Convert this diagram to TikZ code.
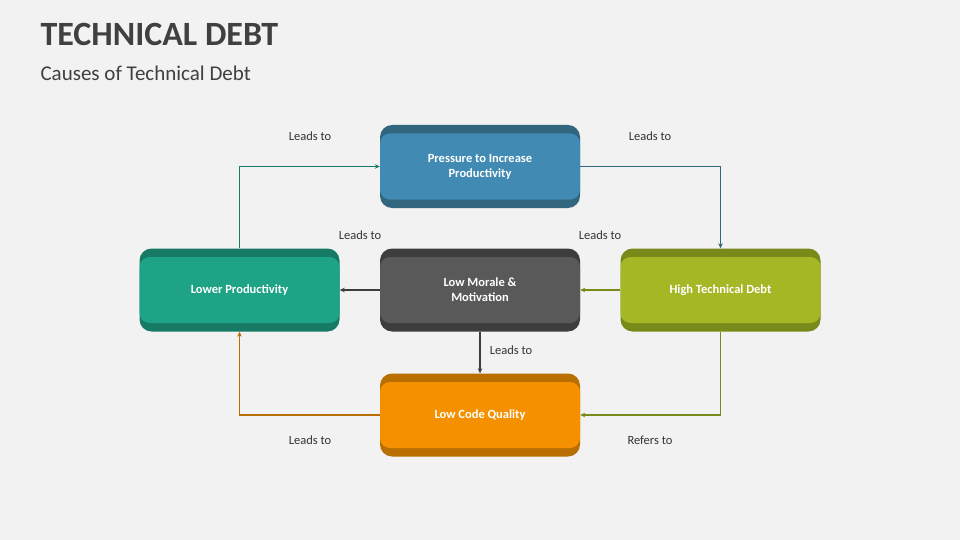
\documentclass[tikz,border=0pt]{standalone}
\usepackage{fontspec}
\setmainfont{Carlito}
\usetikzlibrary{arrows.meta}
\definecolor{bg}{HTML}{F2F2F2}
\definecolor{pL}{HTML}{418AB3}\definecolor{pD}{HTML}{32667F}
\definecolor{gL}{HTML}{1FA386}\definecolor{gD}{HTML}{177A64}
\definecolor{mL}{HTML}{595959}\definecolor{mD}{HTML}{3D3D3D}
\definecolor{oL}{HTML}{A5B725}\definecolor{oD}{HTML}{7A8A1A}
\definecolor{yL}{HTML}{F59100}\definecolor{yD}{HTML}{B86E00}
\tikzset{
 outerbox/.style={minimum width=200pt,minimum height=83pt,rounded corners=12pt,inner sep=0pt},
 boxtext/.style={text=white,font=\bfseries\fontsize{12.5}{15}\selectfont,align=center},
 conn/.style={line width=1.3pt,-{Stealth[length=5pt,width=4.5pt]}},
 lbl/.style={text=black!80,font=\fontsize{12.5}{15}\selectfont}
}
\newcommand{\mybox}[6]{%
 \node[outerbox,fill=#4] (#1) at (#2,#3) {};
 \fill[#5,rounded corners=10pt] ($(#1.center)+(-100pt,-33pt)$) rectangle ($(#1.center)+(100pt,33pt)$);
 \node[boxtext] (#1t) at (#1.center) {#6};}
\usetikzlibrary{calc}
\begin{document}
\begin{tikzpicture}[x=1pt,y=-1pt]
\fill[bg] (0,0) rectangle (960,540);
\useasboundingbox (0,0) rectangle (960,540);
\node[anchor=west,font=\bfseries\fontsize{34}{40}\selectfont,text=black!75] (title) at (37,34) {TECHNICAL DEBT};
\node[anchor=west,font=\fontsize{21}{25}\selectfont,text=black!75] (sub) at (37,73) {Causes of Technical Debt};
\mybox{p}{480}{166.5}{pD}{pL}{Pressure to Increase\\Productivity}
\mybox{lp}{239.5}{290}{gD}{gL}{Lower Productivity}
\mybox{lm}{480}{290}{mD}{mL}{Low Morale \&\\Motivation}
\mybox{ht}{720.5}{290}{oD}{oL}{High Technical Debt}
\mybox{lc}{480}{415}{yD}{yL}{Low Code Quality}
\draw[conn,gD] (lp.north) |- (p.west);
\draw[conn,pD] (p.east) -| (ht.north);
\draw[conn,oD] (ht.west) -- (lm.east);
\draw[conn,mD] (lm.west) -- (lp.east);
\draw[conn,mD] (lm.south) -- (lc.north);
\draw[conn,oD] (ht.south) |- (lc.east);
\draw[conn,yD] (lc.west) -| (lp.south);
\node[lbl] (l1) at (310,136) {Leads to};
\node[lbl] (l2) at (650,136) {Leads to};
\node[lbl] (l3) at (360,235) {Leads to};
\node[lbl] (l4) at (600,235) {Leads to};
\node[lbl] (l5) at (511,350) {Leads to};
\node[lbl] (l6) at (310,440) {Leads to};
\node[lbl] (l7) at (650,440) {Refers to};
\end{tikzpicture}
\end{document}
